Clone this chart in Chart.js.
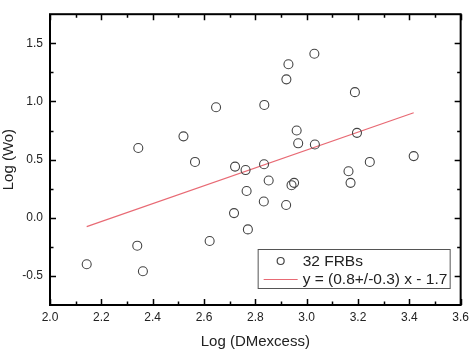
<!DOCTYPE html>
<html>
<head>
<meta charset="utf-8">
<script src="https://cdn.jsdelivr.net/npm/chart.js@4/dist/chart.umd.min.js"></script>
<style>
  html, body { margin: 0; padding: 0; background: #fff; }
  #wrap { width: 474px; height: 351px; }
</style>
</head>
<body>
<div id="wrap"><canvas id="c"></canvas></div>
<script>
// Log (DMexcess) vs Log (Wo) for 32 FRBs
const logDM = [2.143, 2.340, 2.362, 2.344, 2.520, 2.565, 2.622, 2.647, 2.717, 2.721,
               2.762, 2.766, 2.771, 2.833, 2.834, 2.835, 2.852, 2.920, 2.921, 2.929,
               2.941, 2.951, 2.961, 2.967, 3.030, 3.032, 3.163, 3.171, 3.188, 3.196,
               3.246, 3.417];
const logW = [-0.40, -0.24, -0.46, 0.60, 0.70, 0.48, -0.20, 0.95, 0.04, 0.44,
              0.41, 0.23, -0.10, 0.14, 0.46, 0.97, 0.32, 0.11, 1.19, 1.32,
              0.28, 0.30, 0.75, 0.64, 1.41, 0.63, 0.40, 0.30, 1.08, 0.73,
              0.48, 0.53];

// fitted line end points
const fitX = [2.143, 3.417];
const fitY = [-0.076, 0.903];

const xTicks = [2.0, 2.2, 2.4, 2.6, 2.8, 3.0, 3.2, 3.4, 3.6];
const yTicks = [-0.5, 0.0, 0.5, 1.0, 1.5];

const pointLabel = "32 FRBs";
const fitLabel = "y = (0.8+/-0.3) x - 1.7";

const FONT = "'Liberation Sans', Arial, sans-serif";
const textColor = "#222";

function withMinor(vals, min, max) {
  const step = vals[1] - vals[0];
  const out = [];
  for (let v = vals[0] - step / 2; v < max + 1e-9; v += step) {
    if (v > min + 1e-9 && v < max - 1e-9) out.push(v);
  }
  return out;
}

// inside ticks, frame and boxed legend
const framePlugin = {
  id: "frame",
  afterDraw(chart) {
    const ctx = chart.ctx;
    const a = chart.chartArea;
    const xs = chart.scales.x, ys = chart.scales.y;
    ctx.save();
    ctx.strokeStyle = "#000";
    ctx.lineWidth = 2;
    ctx.strokeRect(a.left, a.top, a.right - a.left, a.bottom - a.top);

    ctx.lineWidth = 1.5;
    const major = 6, minor = 3.5;
    ctx.beginPath();
    const xMark = (v, len) => {
      const px = Math.round(xs.getPixelForValue(v)) + 0.5;
      ctx.moveTo(px, a.bottom); ctx.lineTo(px, a.bottom - len);
      ctx.moveTo(px, a.top); ctx.lineTo(px, a.top + len);
    };
    const yMark = (v, len) => {
      const py = Math.round(ys.getPixelForValue(v)) + 0.5;
      ctx.moveTo(a.left, py); ctx.lineTo(a.left + len, py);
      ctx.moveTo(a.right, py); ctx.lineTo(a.right - len, py);
    };
    xTicks.forEach((v) => xMark(v, major));
    withMinor(xTicks, xs.min, xs.max).forEach((v) => xMark(v, minor));
    yTicks.forEach((v) => yMark(v, major));
    withMinor(yTicks, ys.min, ys.max).forEach((v) => yMark(v, minor));
    ctx.stroke();

    // legend box
    const w = 192, h = 39;
    const bx = a.right - 11 - w, by = a.bottom - 17 - h;
    ctx.fillStyle = "#fff";
    ctx.fillRect(bx, by, w, h);
    ctx.strokeStyle = "#555";
    ctx.lineWidth = 1;
    ctx.strokeRect(bx + 0.5, by + 0.5, w, h);

    const ds0 = chart.data.datasets[0], ds1 = chart.data.datasets[1];
    ctx.font = "15.5px " + FONT;
    ctx.fillStyle = textColor;
    ctx.textBaseline = "middle";
    ctx.textAlign = "left";
    const r1 = by + 12, r2 = by + 30;
    ctx.beginPath();
    ctx.strokeStyle = ds0.borderColor;
    ctx.lineWidth = 1.2;
    ctx.arc(bx + 23, r1, 3.5, 0, Math.PI * 2);
    ctx.stroke();
    ctx.fillText(ds0.label, bx + 45, r1 + 1);
    ctx.beginPath();
    ctx.strokeStyle = ds1.borderColor;
    ctx.lineWidth = 1.2;
    ctx.moveTo(bx + 6, r2 + 0.5);
    ctx.lineTo(bx + 40, r2 + 0.5);
    ctx.stroke();
    ctx.fillText(ds1.label, bx + 45, r2 + 1);
    ctx.restore();
  }
};

new Chart(document.getElementById("c"), {
  type: "scatter",
  data: {
    datasets: [
      {
        label: pointLabel,
        data: logDM.map((x, i) => ({ x, y: logW[i] })),
        showLine: false,
        pointStyle: "circle",
        pointRadius: 4.5,
        pointBorderWidth: 1.1,
        borderColor: "#444",
        backgroundColor: "rgba(0,0,0,0)"
      },
      {
        type: "line",
        label: fitLabel,
        data: fitX.map((x, i) => ({ x, y: fitY[i] })),
        borderColor: "#e86a74",
        borderWidth: 1.2,
        pointRadius: 0,
        fill: false
      }
    ]
  },
  options: {
    responsive: true,
    maintainAspectRatio: false,
    animation: false,
    layout: { padding: { top: 1, right: 9, left: 0, bottom: 0 } },
    plugins: { legend: { display: false }, tooltip: { enabled: false } },
    scales: {
      x: {
        type: "linear",
        min: 2.0,
        max: 3.6,
        grid: { display: false, drawTicks: false },
        border: { display: false },
        afterBuildTicks: (s) => { s.ticks = xTicks.map((v) => ({ value: v })); },
        ticks: {
          padding: 5,
          color: textColor,
          font: { family: FONT, size: 12 },
          callback: (v) => Number(v).toFixed(1)
        },
        title: {
          display: true,
          text: "Log (DMexcess)",
          color: textColor,
          font: { family: FONT, size: 15 },
          padding: 0
        },
        afterFit: (s) => { s.height = 46; }
      },
      y: {
        type: "linear",
        min: -0.75,
        max: 1.75,
        grid: { display: false, drawTicks: false },
        border: { display: false },
        afterBuildTicks: (s) => { s.ticks = yTicks.map((v) => ({ value: v })); },
        ticks: {
          padding: 7,
          color: textColor,
          font: { family: FONT, size: 12 },
          callback: (v) => Number(v).toFixed(1)
        },
        title: {
          display: true,
          text: "Log (Wo)",
          color: textColor,
          font: { family: FONT, size: 15 },
          padding: 0
        },
        afterFit: (s) => { s.width = 50; }
      }
    }
  },
  plugins: [framePlugin]
});
</script>
</body>
</html>
